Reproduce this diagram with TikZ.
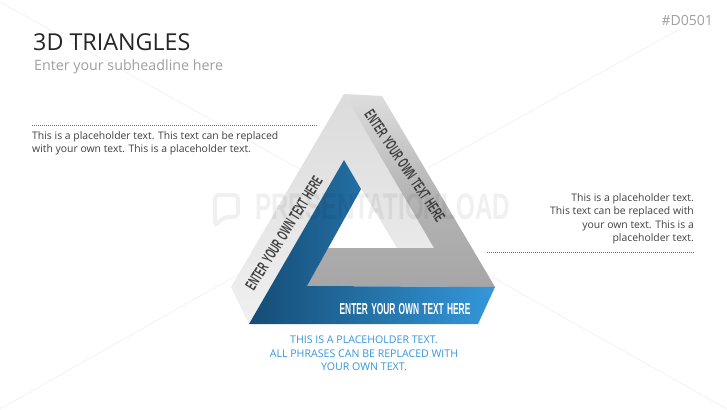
\documentclass[tikz,border=0pt]{standalone}
\usepackage{fontspec}
\setmainfont{Open Sans}
\newfontfamily\bannerfont[FakeStretch=0.53, WordSpace=1.4]{Liberation Sans Bold}
\newfontfamily\markfont[FakeStretch=0.655]{Liberation Sans Bold}
\usepackage{tikz}
\definecolor{bluedark}{HTML}{154C75}
\definecolor{bluelight}{HTML}{3498DB}
\definecolor{inktext}{HTML}{404040}
\definecolor{subtext}{HTML}{A0A0A0}
\tikzset{
    bodytext/.style={font=\fontsize{10.4}{13.3}\selectfont, text=inktext, inner sep=0pt},
    banner/.style={font=\bannerfont\fontsize{15.8}{16}\selectfont, inner sep=0pt},
    rulerline/.style={dash pattern=on 1pt off 1pt, line width=0.6pt, draw=black!55},
    faintline/.style={draw=black!6, line width=0.6pt}
}

\begin{document}
\begin{tikzpicture}[x=1pt, y=-1pt]
    \useasboundingbox (0, 0) rectangle (727, 409);
    \fill[white] (0, 0) rectangle (727, 409);

    \foreach \ax/\ay/\bx/\by in {0/2/307/173, 680/29/428/168, 0/409/308/235, 727/409/417/235} {
        \draw[faintline] (\ax, \ay) -- (\bx, \by);
    }

    % triangle
    \shade[top color=black!14, bottom color=black!6]
        (231, 287) -- (344, 94) -- (434, 248) -- (397, 248) -- (344, 160) -- (249, 324) -- cycle;
    \shade[top color=black!13, bottom color=black!35, middle color=black!29]
        (344, 94) -- (382, 96) -- (495, 287) -- (307, 286) -- (328, 248) -- (434, 248) -- cycle;
    \shade[left color=bluedark, right color=bluelight]
        (249, 324) -- (344, 160) -- (361, 189) -- (307, 286) -- (495, 287) -- (478, 324) -- cycle;

    \node[banner, text=inktext, rotate=58] (bannerleft) at (284, 233) {ENTER YOUR OWN TEXT HERE};
    \node[banner, text=inktext, rotate=-56] (bannerright) at (405, 166) {ENTER YOUR OWN TEXT HERE};
    \node[banner, text=white] (bannerbottom) at (405, 309.5) {ENTER YOUR OWN TEXT HERE};

    % watermark
    \draw[black, opacity=0.06, line width=4pt, rounded corners=4pt]
        (215, 195) -- (238, 195) -- (238, 217) -- (224, 217) -- (215, 226) -- cycle;
    \node[font=\markfont\fontsize{37}{37}\selectfont, text=black, opacity=0.06, anchor=west, inner sep=0pt] (watermark) at (255, 207) {PRESENTATIONLOAD};

    \node[font=\fontsize{23.3}{24}\selectfont, text=black!85, anchor=west, inner sep=0pt] (title) at (33, 42) {3D TRIANGLES};
    \node[font=\fontsize{14.25}{15}\selectfont, text=subtext, anchor=west, inner sep=0pt] (subtitle) at (34, 67) {Enter your subheadline here};
    \node[font=\fontsize{14}{14}\selectfont, text=subtext, anchor=east, inner sep=0pt] (code) at (713, 20.5) {\#D0501};

    \coordinate (ruleleftstart) at (32, 125.5);
    \coordinate (ruleleftend) at (318, 125.5);
    \draw[rulerline] (ruleleftstart) -- (ruleleftend);
    \node[bodytext, align=left, anchor=north west] (textleft) at (32, 131.5) {This is a placeholder text. This text can be replaced\\with your own text. This is a placeholder text.};

    \coordinate (rulerightstart) at (487, 252.5);
    \coordinate (rulerightend) at (695, 252.5);
    \draw[rulerline] (rulerightstart) -- (rulerightend);
    \node[bodytext, align=right, anchor=north east] (textright) at (694, 193.5) {This is a placeholder text.\\This text can be replaced with\\your own text. This is a\\placeholder text.};

    \node[bodytext, font=\fontsize{10.6}{13.3}\selectfont, text=bluelight, align=center, anchor=north] (textbottom) at (364, 336) {THIS IS A PLACEHOLDER TEXT.\\ALL PHRASES CAN BE REPLACED WITH\\YOUR OWN TEXT.};
\end{tikzpicture}
\end{document}
